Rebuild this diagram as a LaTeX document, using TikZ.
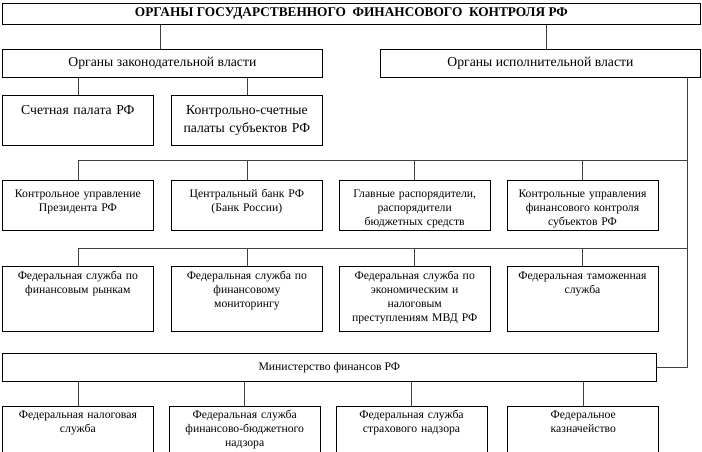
\documentclass[tikz,border=0pt]{standalone}
\usepackage{fontspec}
\setmainfont{Liberation Serif}
\usetikzlibrary{positioning}

\begin{document}
\begin{tikzpicture}[x=1pt,y=1pt,
      title style/.style={rectangle,draw=black,line width=0.8pt,inner sep=0pt,
        minimum width=698pt,minimum height=21pt,font=\fontsize{13.3}{15}\selectfont\bfseries},
      branch style/.style={rectangle,draw=black,line width=0.8pt,inner sep=0pt,
        minimum height=28pt,font=\fontsize{13.7}{16}\selectfont},
      cell style/.style={rectangle,draw=black,line width=0.8pt,inner xsep=1pt,
        inner ysep=0pt,text width=149pt,align=center,text height=17pt,
        text depth=#1,font=\fontsize{11.7}{14}\selectfont},
      link style/.style={draw=black!75,line width=0.8pt}
      ]
      \useasboundingbox (0,0) rectangle (702,-451);
      \node[title style,anchor=north west] (title) at (2,-3)
        {ОРГАНЫ ГОСУДАРСТВЕННОГО\ \ ФИНАНСОВОГО\ \ КОНТРОЛЯ РФ};
      \node[branch style,minimum width=320pt,below=24pt of title.south west,
        anchor=north west] (leg) {Органы законодательной власти};
      \node[branch style,minimum width=320pt,below=24pt of title.south east,
        anchor=north east] (exec) {Органы исполнительной власти};

      \node[cell style=31pt,text height=19pt,font=\fontsize{13.7}{18.5}\selectfont,
        below=17pt of leg.south west,anchor=north west] (sch) {Счетная палата РФ};
      \node[cell style=31pt,text height=19pt,font=\fontsize{13.7}{18.5}\selectfont,
        below=17pt of leg.south east,anchor=north east] (ksp)
        {Контрольно-счетные\\палаты субъектов РФ};

      \node[cell style=33pt,below=35pt of sch] (kup)
        {Контрольное управление\\Президента РФ};
      \node[cell style=33pt,below=35pt of ksp] (cb)
        {Центральный банк РФ\\(Банк России)};
      \node[cell style=33pt,right=16pt of cb] (grbs)
        {Главные распорядители,\\распорядители\\бюджетных средств};
      \node[cell style=33pt,right=16pt of grbs] (kufk)
        {Контрольные управления\\финансового контроля\\субъектов РФ};

      \node[cell style=52pt,text height=13pt,below=35pt of kup] (fsfr)
        {Федеральная служба по\\финансовым рынкам};
      \node[cell style=52pt,text height=13pt,below=35pt of cb] (fsfm)
        {Федеральная служба по\\финансовому\\мониторингу};
      \node[cell style=52pt,text height=13pt,below=35pt of grbs] (fsen)
        {Федеральная служба по\\экономическим и\\налоговым\\преступлениям МВД РФ};
      \node[cell style=52pt,text height=13pt,below=35pt of kufk] (fts)
        {Федеральная таможенная\\служба};

      \node[branch style,minimum width=654pt,font=\fontsize{11.7}{14}\selectfont,
        below=21pt of fsfr.south west,anchor=north west] (min) {Министерство финансов РФ};

      \node[cell style=37pt,text height=12pt,below=24pt of min.south west,
        anchor=north west] (fns) {Федеральная налоговая\\служба};
      \node[cell style=37pt,text height=12pt,right=15pt of fns] (fsfbn)
        {Федеральная служба\\финансово-бюджетного\\надзора};
      \node[cell style=37pt,text height=12pt,right=15pt of fsfbn] (fssn)
        {Федеральная служба\\страхового надзора};
      \node[cell style=37pt,text height=12pt,right=20pt of fssn] (fk)
        {Федеральное\\казначейство};

      \coordinate (bus) at ([xshift=-13pt]exec.south east);
      \coordinate (row2) at ([yshift=20pt]kup.north);
      \coordinate (row3) at ([yshift=18pt]fsfr.north);

      \draw[link style] ([xshift=-2pt]leg.north) -- ([xshift=-2pt]leg.north |- title.south);
      \draw[link style] ([xshift=6pt]exec.north) -- ([xshift=6pt]exec.north |- title.south);
      \draw[link style] (sch.north) -- (sch.north |- leg.south);
      \draw[link style] (ksp.north) -- (ksp.north |- leg.south);

      \draw[link style] (bus) |- (min.east);
      \draw[link style] (row2) -- (row2 -| bus);
      \draw[link style] (row3) -- (row3 -| bus);

      \draw[link style] (kup.north) -- (kup.north |- row2);
      \draw[link style] (cb.north) -- (cb.north |- row2);
      \draw[link style] (grbs.north) -- (grbs.north |- row2);
      \draw[link style] (kufk.north) -- (kufk.north |- row2);

      \draw[link style] (fsfr.north) -- (fsfr.north |- row3);
      \draw[link style] (fsfm.north) -- (fsfm.north |- row3);
      \draw[link style] (fsen.north) -- (fsen.north |- row3);
      \draw[link style] (fts.north) -- (fts.north |- row3);

      \draw[link style] (fns.north) -- (fns.north |- min.south);
      \draw[link style] (fsfbn.north) -- (fsfbn.north |- min.south);
      \draw[link style] (fssn.north) -- (fssn.north |- min.south);
      \draw[link style] (fk.north) -- (fk.north |- min.south);

    \end{tikzpicture}
\end{document}
